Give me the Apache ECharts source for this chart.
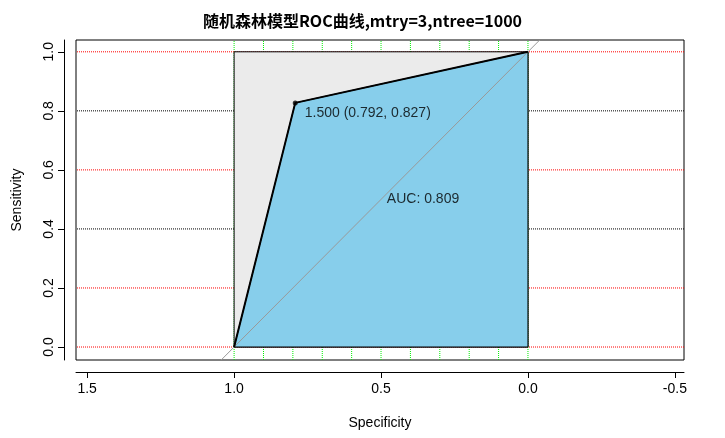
<!DOCTYPE html>
<html>
<head>
<meta charset="utf-8">
<script src="https://cdn.jsdelivr.net/npm/echarts@6/dist/echarts.min.js"></script>
<style>html,body{margin:0;background:#fff}#main{width:725px;height:438px}</style>
</head>
<body>
<div id="main"></div>
<script>
// ROC curve data (specificity, sensitivity)
var rocSpec = [1.0, 0.792, 0.0];
var rocSens = [0.0, 0.827, 1.0];
var xTicks = [1.5, 1.0, 0.5, 0.0, -0.5];
var yTicks = [0.0, 0.2, 0.4, 0.6, 0.8, 1.0];
var vGrid = [1.0, 0.9, 0.8, 0.7, 0.6, 0.5, 0.4, 0.3, 0.2, 0.1, 0.0];
var hGridRed = [0.0, 0.2, 0.6, 1.0];
var hGridBlack = [0.4, 0.8];
var aucText = 'AUC: 0.809';
var thrText = '1.500 (0.792, 0.827)';

var xMin = -0.531, xMax = 1.538, yMin = -0.044, yMax = 1.04;
var chart = echarts.init(document.getElementById('main'));

function polySeries(pts, fill, z) {
    return {
        type: 'custom', z: z, silent: true,
        renderItem: function (params, api) {
            return {
                type: 'polygon',
                shape: { points: pts.map(function (p) { return api.coord(p); }) },
                style: { fill: fill, stroke: '#000', lineWidth: 1 }
            };
        },
        data: [0]
    };
}
function lineSeries(data, color, z, type) {
    return {
        type: 'line', z: z, silent: true, symbol: 'none', data: data,
        lineStyle: { color: color, width: 1, type: type || 'dotted' }
    };
}

var series = [];
vGrid.forEach(function (v) { series.push(lineSeries([[v, yMin], [v, yMax]], '#00ee00', 1)); });
hGridRed.forEach(function (v) { series.push(lineSeries([[xMin, v], [xMax, v]], '#ff0000', 1)); });
hGridBlack.forEach(function (v) { series.push(lineSeries([[xMin, v], [xMax, v]], '#000', 1)); });

series.push(polySeries([[1, 0], [1, 1], [0, 1], [0, 0]], '#ebebeb', 2));
var blue = rocSpec.map(function (s, i) { return [s, rocSens[i]]; });
blue.push([0, 0]);
series.push(polySeries(blue, '#87ceeb', 3));
series.push(lineSeries([[1 + 0.044, -0.044], [-0.04, 1.04]], '#999999', 4, 'solid'));
series.push({
    type: 'line', z: 5, data: rocSpec.map(function (s, i) { return [s, rocSens[i]]; }),
    symbol: 'none', lineStyle: { color: '#000', width: 2 }
});
series.push({
    type: 'scatter', z: 6, symbolSize: 5, itemStyle: { color: '#000' },
    data: [[rocSpec[1], rocSens[1]]],
    label: { show: true, formatter: thrText, position: 'right', offset: [2, 10],
        color: '#000', fontSize: 14, fontFamily: 'Liberation Sans' }
});
series.push({
    type: 'scatter', z: 6, symbolSize: 0, data: [[0.5, 0.5]],
    label: { show: true, formatter: aucText, position: 'inside', offset: [42, 0],
        color: '#000', fontSize: 14, fontFamily: 'Liberation Sans' }
});

chart.setOption({
    animation: false,
    title: { text: '随机森林模型ROC曲线,mtry=3,ntree=1000', left: 'center', top: 8,
        textStyle: { fontSize: 16, fontWeight: 'bold', color: '#000', fontFamily: 'Noto Sans CJK SC' } },
    grid: { left: 76, right: 41, top: 40, bottom: 78, show: true, borderColor: '#000', borderWidth: 1 },
    xAxis: {
        type: 'value', inverse: true, min: xMin, max: xMax, offset: 12,
        name: 'Specificity', nameLocation: 'middle', nameGap: 44,
        nameTextStyle: { fontSize: 14, color: '#000', fontFamily: 'Liberation Sans' },
        axisLine: { show: true, onZero: false, lineStyle: { color: '#000' } },
        axisTick: { show: true, length: 6, customValues: xTicks },
        axisLabel: { customValues: xTicks, color: '#000', fontSize: 14, margin: 10,
            fontFamily: 'Liberation Sans', formatter: function (v) { return v.toFixed(1); } },
        splitLine: { show: false }
    },
    yAxis: {
        type: 'value', min: yMin, max: yMax, offset: 12,
        name: 'Sensitivity', nameLocation: 'middle', nameGap: 40,
        nameTextStyle: { fontSize: 14, color: '#000', fontFamily: 'Liberation Sans' },
        axisLine: { show: true, onZero: false, lineStyle: { color: '#000' } },
        axisTick: { show: true, length: 6, customValues: yTicks },
        axisLabel: { customValues: yTicks, rotate: 90, color: '#000', fontSize: 14, margin: 8,
            fontFamily: 'Liberation Sans', formatter: function (v) { return v.toFixed(1); } },
        splitLine: { show: false }
    },
    series: series
});
</script>
</body>
</html>
